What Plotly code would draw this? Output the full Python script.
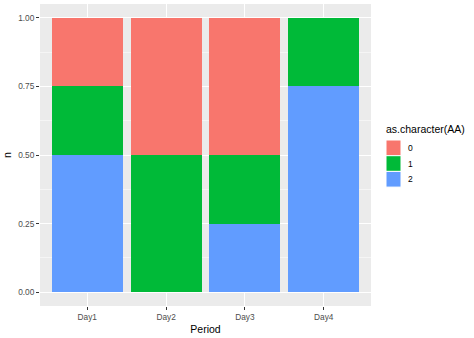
import plotly.graph_objects as go

days = ["Day1", "Day2", "Day3", "Day4"]
groups = ["2", "1", "0"]
legend_order = ["0", "1", "2"]
share_0 = [0.25, 0.50, 0.50, 0.00]
share_1 = [0.25, 0.50, 0.25, 0.25]
share_2 = [0.50, 0.00, 0.25, 0.75]
y_ticks = [0, 0.25, 0.5, 0.75, 1.0]

colors = {"0": "#F8766D", "1": "#00BA38", "2": "#619CFF"}
values = {"0": share_0, "1": share_1, "2": share_2}

fig = go.Figure()
for g in groups:
    fig.add_trace(go.Bar(x=days, y=values[g], name=g, marker=dict(color=colors[g], line=dict(width=0)),
                         width=0.9, showlegend=False))

# plot area geometry (px) for the hand-drawn ggplot-style legend
L, R, T, B = 40, 103, 4, 32
W, H = 474, 338
pw, ph = W - L - R, H - T - B
def px_x(x):
    return (x - L) / pw
def px_y(y):
    return (H - B - y) / ph

font = "Arial, Liberation Sans, sans-serif"
key_x0, key_w, key_h, key_top = 386, 15, 15.7, 140
for i, g in enumerate(legend_order):
    y0 = key_top + i * key_h
    fig.add_shape(type="rect", xref="paper", yref="paper",
                  x0=px_x(key_x0), x1=px_x(key_x0 + key_w),
                  y0=px_y(y0 + key_h), y1=px_y(y0),
                  fillcolor=colors[g], line=dict(color="white", width=1))
    fig.add_annotation(xref="paper", yref="paper", x=px_x(406), y=px_y(y0 + key_h / 2),
                       text=g, showarrow=False, xanchor="left", yanchor="middle",
                       font=dict(size=8.5, color="black", family=font))
fig.add_annotation(xref="paper", yref="paper", x=px_x(384), y=px_y(129),
                   text="as.character(AA)", showarrow=False, xanchor="left", yanchor="middle",
                   font=dict(size=10.5, color="black", family=font))

fig.update_layout(
    barmode="stack",
    width=W, height=H,
    margin=dict(l=L, r=R, t=T, b=B, autoexpand=False, pad=0),
    paper_bgcolor="white",
    plot_bgcolor="#EBEBEB",
    font=dict(family=font, color="#4D4D4D", size=8.5),
    xaxis=dict(
        range=[-0.6, 3.6],
        showgrid=True, gridcolor="white", gridwidth=1,
        ticks="outside", ticklen=3, tickcolor="#333333", tickwidth=1,
        tickfont=dict(size=8.3, color="#4D4D4D"),
        title=dict(text="Period", font=dict(size=10.5, color="black"), standoff=4),
        zeroline=False,
    ),
    yaxis=dict(
        range=[-0.05, 1.05],
        tickvals=y_ticks, tickformat=".2f",
        showgrid=True, gridcolor="white", gridwidth=1,
        minor=dict(dtick=0.125, tick0=0.125, showgrid=True, gridcolor="#F5F5F5", gridwidth=0.5),
        ticks="outside", ticklen=3, tickcolor="#333333", tickwidth=1,
        tickfont=dict(size=8.3, color="#4D4D4D"),
        title=dict(text="n", font=dict(size=10.5, color="black"), standoff=4),
        zeroline=False,
    ),
)
fig.write_html("out.html")
